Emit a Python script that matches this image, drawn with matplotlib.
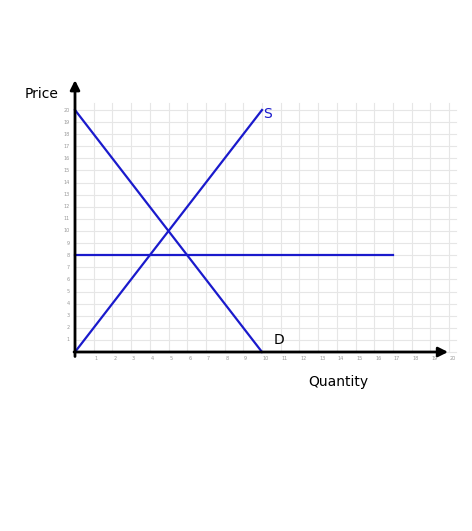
import matplotlib
matplotlib.use('Agg')
import matplotlib.pyplot as plt

# Values
ticks = list(range(1, 21))
demand_q = [0, 10]
demand_p = [20, 0]
supply_q = [0, 10]
supply_p = [0, 20]
ceiling_q = [0, 17]
ceiling_p = [8, 8]

W, H = 472, 531
fig = plt.figure(figsize=(W / 100, H / 100), dpi=100)
x0, x1, y0, y1 = 75, 449, 352, 110   # pixel positions of 0 and 20
ax = fig.add_axes([x0 / W, 1 - y0 / H, (x1 - x0) / W, (y0 - y1) / H])
ax.set_xlim(0, 20)
ax.set_ylim(0, 20)
ax.axis('off')

blue = '#1a1acc'
# grid
for t in range(0, 21):
    ax.plot([t, t], [0, 20.6], color='#e6e6e6', lw=0.8, clip_on=False, zorder=0)
    ax.plot([0, 20.4], [t, t], color='#e6e6e6', lw=0.8, clip_on=False, zorder=0)
for t in ticks:
    ax.text(t + 0.05, -0.35, str(t), fontsize=3.5, color='#999999', ha='left', va='top')
    ax.text(-0.3, t, str(t), fontsize=3.5, color='#999999', ha='right', va='center')

# axes with arrows
ax.annotate('', xy=(20.1, 0), xytext=(-0.2, 0), xycoords='data',
            arrowprops=dict(arrowstyle='-|>', color='black', lw=2, mutation_scale=14),
            annotation_clip=False)
ax.annotate('', xy=(0, 22.7), xytext=(0, -0.6), xycoords='data',
            arrowprops=dict(arrowstyle='-|>', color='black', lw=2, mutation_scale=14),
            annotation_clip=False)

ax.plot(demand_q, demand_p, color=blue, lw=1.6, clip_on=False)
ax.plot(supply_q, supply_p, color=blue, lw=1.6, clip_on=False)
ax.plot(ceiling_q, ceiling_p, color=blue, lw=1.6, clip_on=False)

ax.text(10.05, 19.7, 'S', color=blue, fontsize=10, va='center', ha='left')
ax.text(10.6, 1.0, 'D', color='black', fontsize=10, va='center', ha='left')
fig.text(25 / W, 1 - 94 / H, 'Price', fontsize=10, va='center', ha='left')
fig.text(308 / W, 1 - 382 / H, 'Quantity', fontsize=10, va='center', ha='left')

fig.savefig('out.png', dpi=100)
